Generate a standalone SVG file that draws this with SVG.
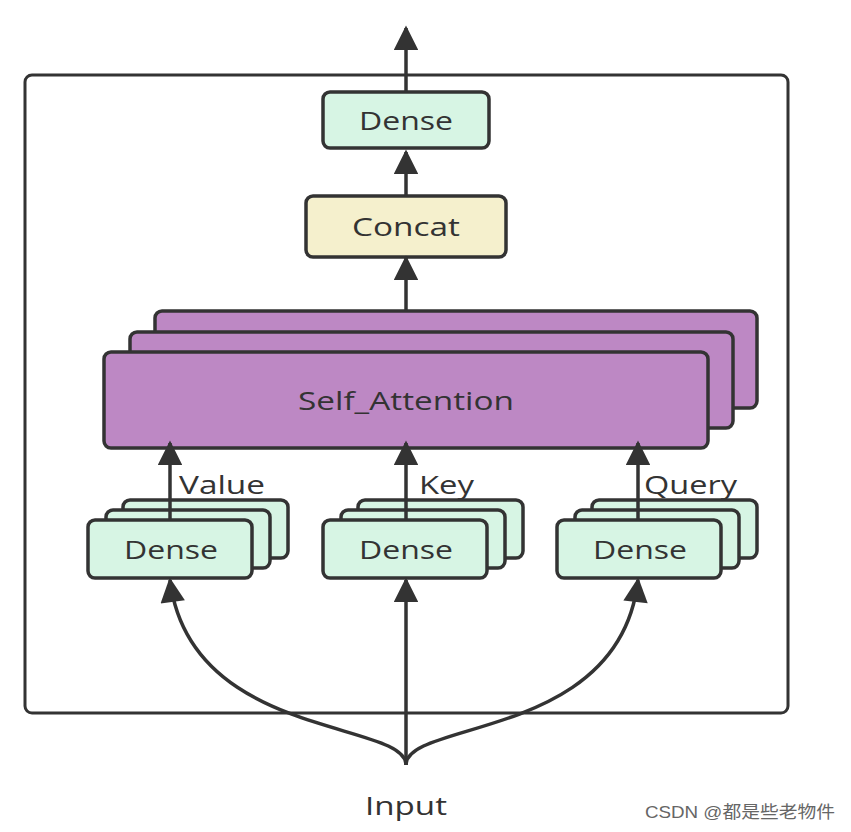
<svg xmlns="http://www.w3.org/2000/svg" width="851" height="832" viewBox="0 0 851 832">
<style>
.b{stroke:#333;stroke-width:3.5}
.g{fill:#d7f5e4}
.p{fill:#bd88c4}
.t{font-family:"Open Sans","Liberation Sans",sans-serif;fill:#333;text-anchor:middle;font-size:25px}
.l{font-family:"Open Sans","Liberation Sans",sans-serif;fill:#333;font-size:25px}
.c{fill:none;stroke:#333;stroke-width:3.5}
</style>
<defs>
<marker id="a" viewBox="0 0 10 10" refX="9" refY="5" markerWidth="8" markerHeight="7" markerUnits="strokeWidth" orient="auto"><path d="M0,0L10,5L0,10z" fill="#333"/></marker>
</defs>
<rect width="851" height="832" fill="#fff"/>
<rect id="frame" x="25" y="75" width="763" height="638" rx="7" fill="none" stroke="#333" stroke-width="3"/>
<g id="dense_top"><rect class="b g" x="323" y="92" width="166" height="56" rx="7"/><text class="t" x="406" y="130" textLength="94" lengthAdjust="spacingAndGlyphs">Dense</text></g>
<g id="concat"><rect class="b" fill="#f5f0cd" x="306" y="196" width="200" height="61" rx="7"/><text class="t" x="406" y="236" textLength="108" lengthAdjust="spacingAndGlyphs">Concat</text></g>
<g id="self_attention">
<rect class="b p" x="155" y="311" width="602" height="97" rx="7"/>
<rect class="b p" x="130" y="332" width="603" height="96" rx="7"/>
<rect class="b p" x="104" y="352" width="604" height="96" rx="7"/>
<text class="t" x="406" y="410" textLength="216" lengthAdjust="spacingAndGlyphs">Self_Attention</text></g>
<g id="dense_v"><rect class="b g" x="123" y="500" width="165" height="58" rx="7"/><rect class="b g" x="106" y="510" width="164" height="58" rx="7"/><rect class="b g" x="88" y="520" width="164" height="58" rx="7"/><text class="t" x="171" y="559" textLength="94" lengthAdjust="spacingAndGlyphs">Dense</text></g>
<g id="dense_k"><rect class="b g" x="358" y="500" width="165" height="58" rx="7"/><rect class="b g" x="341" y="510" width="164" height="58" rx="7"/><rect class="b g" x="323" y="520" width="164" height="58" rx="7"/><text class="t" x="406" y="559" textLength="94" lengthAdjust="spacingAndGlyphs">Dense</text></g>
<g id="dense_q"><rect class="b g" x="592" y="500" width="165" height="58" rx="7"/><rect class="b g" x="575" y="510" width="164" height="58" rx="7"/><rect class="b g" x="557" y="520" width="164" height="58" rx="7"/><text class="t" x="640" y="559" textLength="94" lengthAdjust="spacingAndGlyphs">Dense</text></g>
<g id="connectors">
<path class="c" d="M406,92V28" marker-end="url(#a)"/>
<path class="c" d="M406,196V152" marker-end="url(#a)"/>
<path class="c" d="M406,311V258" marker-end="url(#a)"/>
<path class="c" d="M170,520V443" marker-end="url(#a)"/>
<path class="c" d="M406,520V443" marker-end="url(#a)"/>
<path class="c" d="M638,520V443" marker-end="url(#a)"/>
<path class="c" d="M406,765V580" marker-end="url(#a)"/>
<path class="c" d="M406,765C406,720 190,740 170,580" marker-end="url(#a)"/>
<path class="c" d="M406,765C406,720 620,740 638,580" marker-end="url(#a)"/>
<text class="l" x="179" y="494" textLength="86" lengthAdjust="spacingAndGlyphs">Value</text>
<text class="l" x="419" y="494" textLength="55" lengthAdjust="spacingAndGlyphs">Key</text>
<text class="l" x="644" y="494" textLength="93" lengthAdjust="spacingAndGlyphs">Query</text>
</g>
<text class="t" x="406" y="815" textLength="82" lengthAdjust="spacingAndGlyphs">Input</text>
<text font-family="Liberation Sans,Noto Sans CJK SC,sans-serif" font-size="17" fill="#666" x="645" y="818" textLength="190" lengthAdjust="spacingAndGlyphs">CSDN @都是些老物件</text>
</svg>
